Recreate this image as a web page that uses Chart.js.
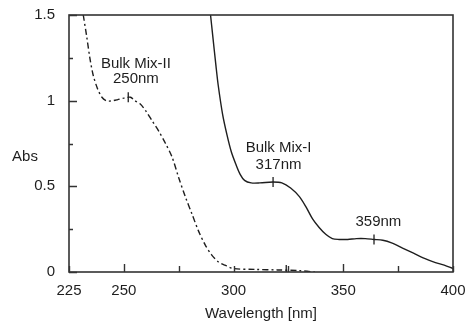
<!DOCTYPE html>
<html>
<head>
<meta charset="utf-8">
<script src="https://cdn.jsdelivr.net/npm/chart.js@4/dist/chart.umd.min.js"></script>
<style>
  html, body { margin: 0; padding: 0; background: #fff; }
</style>
</head>
<body>
<canvas id="plotCanvas" width="474" height="331"></canvas>
<script>
// Bulk Mix-I (solid)
const mix1Wl  = [289.5, 290.5, 292, 293, 295, 297, 299, 301, 303, 305, 308, 312, 318, 322, 326, 330, 333, 336, 339, 342, 345, 348, 352, 356, 360, 364, 368, 372, 377, 382, 387, 392, 396, 400];
const mix1Abs = [1.5, 1.38, 1.2, 1.09, 0.92, 0.8, 0.7, 0.63, 0.57, 0.535, 0.52, 0.52, 0.525, 0.52, 0.49, 0.44, 0.38, 0.31, 0.26, 0.22, 0.195, 0.19, 0.19, 0.195, 0.195, 0.19, 0.185, 0.17, 0.14, 0.11, 0.08, 0.055, 0.04, 0.02];

// Bulk Mix-II (dash-dot)
const mix2Wl  = [231.5, 233, 234.5, 236, 238, 240, 242, 244, 247, 250, 253, 255, 257.5, 260, 263, 266, 269, 272, 275, 278, 281, 284, 287, 290, 293, 296, 300, 310, 320, 330, 337];
const mix2Abs = [1.5, 1.38, 1.25, 1.15, 1.07, 1.02, 1.0, 0.998, 1.005, 1.015, 1.02, 1.0, 0.98, 0.94, 0.88, 0.82, 0.75, 0.67, 0.55, 0.44, 0.34, 0.24, 0.16, 0.1, 0.06, 0.04, 0.02, 0.015, 0.012, 0.008, 0];

// peak marks on the curves
const markWl  = [252, 324, 318, 364];
const markAbs = [1.02, 0.012, 0.525, 0.19];

// annotation texts (x in nm, y in Abs)
const noteText = ["Bulk Mix-II", "250nm", "Bulk Mix-I", "317nm", "359nm"];
const noteWl   = [255.5, 255.5, 320.5, 320.5, 366];
const noteAbs  = [1.215, 1.125, 0.725, 0.627, 0.29];

const xTicks = [225, 250, 275, 300, 325, 350, 375, 400];
const yTicks = [0, 0.25, 0.5, 0.75, 1, 1.25, 1.5];
const yLabels = ["0", "0.5", "1", "1.5"];

const ink = "#1e1e1e";
const font = "Liberation Sans, Arial, sans-serif";

const toPts = (xs, ys) => xs.map((x, i) => ({ x: x, y: ys[i] }));

// frame, inward ticks, "Abs" label and curve notes
const decor = {
  id: "decor",
  afterDraw(chart) {
    const c = chart.ctx, a = chart.chartArea;
    const xs = chart.scales.x, ys = chart.scales.y;
    c.save();
    c.strokeStyle = "#333";
    c.lineWidth = 1.6;
    c.strokeRect(a.left, a.top, a.right - a.left, a.bottom - a.top);
    c.lineWidth = 1.4;
    c.beginPath();
    xTicks.forEach(v => {
      const px = Math.round(xs.getPixelForValue(v)) + 0.5;
      const len = (v === 250 || v === 350) ? 8 : 6;
      c.moveTo(px, a.bottom);
      c.lineTo(px, a.bottom - len);
    });
    yTicks.forEach(v => {
      const py = Math.round(ys.getPixelForValue(v)) + 0.5;
      const len = (v * 2) % 1 === 0 ? 8 : 4;
      c.moveTo(a.left, py);
      c.lineTo(a.left + len, py);
    });
    c.stroke();

    c.fillStyle = ink;
    c.font = "15px " + font;
    c.textAlign = "center";
    c.textBaseline = "middle";
    noteText.forEach((t, i) => {
      c.fillText(t, xs.getPixelForValue(noteWl[i]), ys.getPixelForValue(noteAbs[i]));
    });
    c.fillText("Abs", 25, 157);
    c.restore();
  }
};

const ctx = document.getElementById("plotCanvas").getContext("2d");
const chart = new Chart(ctx, {
  type: "line",
  data: {
    datasets: [
      {
        label: "Bulk Mix-I",
        data: toPts(mix1Wl, mix1Abs),
        borderColor: ink,
        borderWidth: 1.4,
        pointRadius: 0,
        tension: 0.3,
        fill: false
      },
      {
        label: "Bulk Mix-II",
        data: toPts(mix2Wl, mix2Abs),
        borderColor: ink,
        borderWidth: 1.4,
        borderDash: [6, 3, 2, 3],
        pointRadius: 0,
        tension: 0.3,
        fill: false
      },
      {
        label: "peaks",
        data: toPts(markWl, markAbs),
        showLine: false,
        pointStyle: "line",
        rotation: 90,
        pointRadius: 5,
        borderColor: ink,
        borderWidth: 1.3
      }
    ]
  },
  options: {
    responsive: false,
    animation: false,
    layout: { padding: { top: 13, right: 21, left: 0, bottom: 0 } },
    plugins: { legend: { display: false }, tooltip: { enabled: false } },
    scales: {
      x: {
        type: "linear",
        min: 225,
        max: 400,
        afterBuildTicks: s => { s.ticks = xTicks.map(v => ({ value: v })); },
        afterFit: s => { s.height = 59; },
        ticks: {
          callback: v => (v === 275 || v === 325 || v === 375) ? "" : v,
          color: ink,
          font: { size: 15, family: font },
          padding: 2,
          maxRotation: 0
        },
        grid: { display: false },
        border: { display: false },
        title: {
          display: true,
          text: "Wavelength [nm]",
          color: ink,
          font: { size: 15, family: font },
          padding: { top: 2, bottom: 8 }
        }
      },
      y: {
        min: 0,
        max: 1.5,
        afterBuildTicks: s => { s.ticks = yLabels.map(v => ({ value: Number(v) })); },
        afterFit: s => { s.width = 69; },
        ticks: {
          callback: v => yLabels.find(l => Number(l) === v),
          color: ink,
          font: { size: 15, family: font },
          padding: 6
        },
        grid: { display: false },
        border: { display: false }
      }
    }
  },
  plugins: [decor]
});
</script>
</body>
</html>
